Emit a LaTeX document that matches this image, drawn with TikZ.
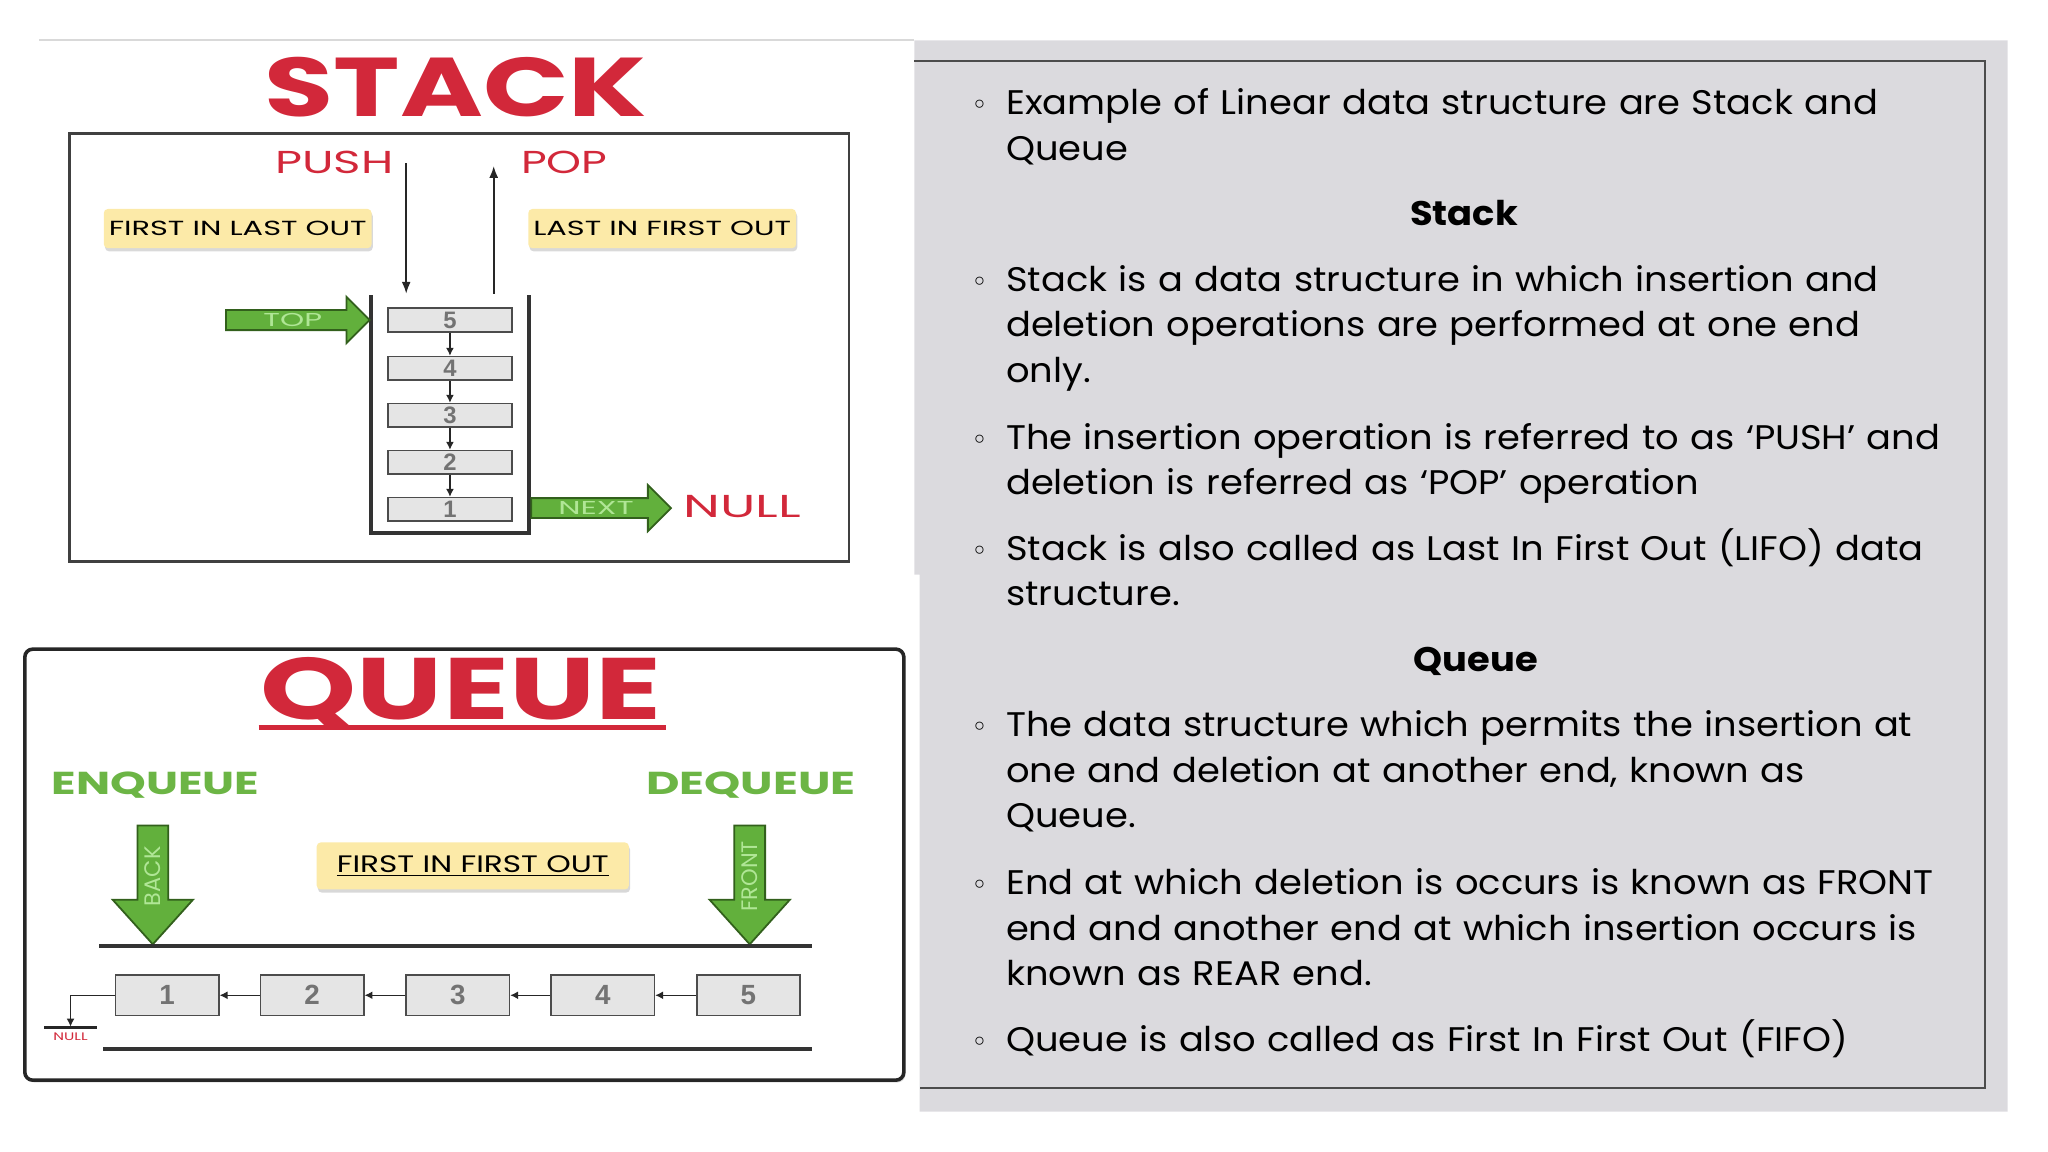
\documentclass[tikz,border=0pt]{standalone}
\usepackage{fontspec}
\usepackage{graphicx}
\setmainfont{Poppins}
\newfontfamily\bodyfont{Poppins}[FakeStretch=1.08]
\newfontfamily\numfont{Liberation Sans}
\newfontfamily\symfont{DejaVu Sans}
\usetikzlibrary{arrows.meta}
\usetikzlibrary{shapes.arrows}
\usetikzlibrary{shadows}
\usetikzlibrary{positioning}
\definecolor[named]{DSRed}{RGB}{210,40,58}
\definecolor[named]{DSGreen}{RGB}{98,176,60}
\definecolor[named]{DSDarkGreen}{RGB}{50,96,28}
\definecolor[named]{DSLightGreen}{RGB}{176,230,150}
\definecolor[named]{DSTextGreen}{RGB}{108,181,69}
\definecolor[named]{DSYellow}{RGB}{252,234,168}
\definecolor[named]{DSPanel}{RGB}{219,218,222}
\colorlet{cellbg}{lightgray!40!white}
\newlength{\px}
\setlength{\px}{0.6585pt}
\newcommand{\wide}[2]{\scalebox{#1}[1]{#2}}
\tikzset{
  redlabel/.style={text=DSRed, inner sep=0pt, font=\fontsize{16}{16}\selectfont},
  greenlabel/.style={text=DSTextGreen, inner sep=0pt, font=\bfseries\fontsize{16}{16}\selectfont},
  note/.style={fill=DSYellow, rounded corners=2pt, inner sep=0pt,
    minimum width=205\px, minimum height=30\px,
    drop shadow={opacity=0.3, shadow xshift=0.6pt, shadow yshift=-1.6pt},
    font=\fontsize{10.3}{10.3}\selectfont},
  scell/.style={draw=black!70, fill=cellbg, line width=0.8pt, inner sep=0pt,
    minimum width=95\px, minimum height=18\px, text=black!55,
    font=\numfont\bfseries\fontsize{12}{12}\selectfont},
  qcell/.style={scell, minimum width=79\px, minimum height=31\px,
    font=\numfont\bfseries\fontsize{14}{14}\selectfont},
  link/.style={-{Latex[length=4pt,width=4pt]}, line width=0.7pt, draw=black!85},
  oplink/.style={-{Latex[length=6pt,width=4.5pt]}, line width=1pt, draw=black!85},
  blockarrow/.style={single arrow, draw=DSDarkGreen, fill=DSGreen, line width=0.9pt,
    text=DSLightGreen, inner xsep=2pt, font=\fontsize{9.4}{9.4}\selectfont},
  wall/.style={line width=1.7pt, draw=black!80},
  rail/.style={line width=2pt, draw=black!80},
  item/.style={anchor=base west, text width=745\px, align=left, inner sep=0pt,
    font=\bodyfont\fontsize{17.2}{23}\selectfont},
  heading/.style={anchor=base, inner sep=0pt, font=\bodyfont\bfseries\fontsize{17.2}{23}\selectfont},
  dot/.style={anchor=base, inner sep=0pt, font=\symfont\fontsize{14}{14}\selectfont},
}
\begin{document}
\begin{tikzpicture}[x=\px, y=-\px]
  \useasboundingbox (0,0) rectangle (1568,882);
  \draw[black!15, line width=1pt] (30,31) -- (700,31);

  % stack
  \node[inner sep=0pt, text=DSRed, font=\bfseries\fontsize{42}{42}\selectfont] (stitle) at (349,67) {\wide{1.35}{STACK}};
  \draw[black!75, line width=1.4pt] (53,102) rectangle (650,430);
  \node[redlabel] (push) at (256,124) {\wide{1.47}{PUSH}};
  \node[redlabel] (pop) at (432,124) {\wide{1.4}{POP}};
  \node[note] (filo) at (182,175) {\wide{1.49}{FIRST IN LAST OUT}};
  \node[note] (lifo) at (507,175) {\wide{1.49}{LAST IN FIRST OUT}};
  \coordinate (pushA) at (311,125);
  \coordinate (pushB) at (311,225);
  \coordinate (popA) at (378,225);
  \coordinate (popB) at (378,127);
  \draw[oplink] (pushA) -- (pushB);
  \draw[oplink] (popA) -- (popB);
  \draw[wall] (284,226) -- (284,408) -- (405,408) -- (405,226);
  \foreach \n/\y in {5/245,4/282,3/318,2/354,1/390}
    \node[scell] (s\n) at (344.5,\y) {\n};
  \foreach \a/\b in {5/4,4/3,3/2,2/1}
    \draw[link] (s\a.south) -- (s\b.north);
  \node[blockarrow, inner ysep=1.3pt, single arrow head extend=6.6pt,
    minimum height=110\px, anchor=tip] (top) at (284,245) {\wide{1.65}{TOP}};
  \node[blockarrow, inner ysep=1.3pt, single arrow head extend=6.6pt,
    minimum height=107\px, anchor=tail] (next) at (406,389) {\wide{1.7}{NEXT}};
  \node[redlabel, anchor=west] (null) at (523,388) {\wide{1.65}{NULL}};

  % queue
  \draw[black!85, line width=1.8pt, rounded corners=4pt,
    drop shadow={opacity=0.25, shadow xshift=0.8pt, shadow yshift=-1.2pt}, fill=white]
    (19,497) rectangle (692,827);
  \node[inner sep=0pt, text=DSRed, font=\bfseries\fontsize{44}{44}\selectfont] (qtitle) at (353,531) {\wide{1.4}{QUEUE}};
  \draw[DSRed, line width=4\px] (198,557) -- (510,557);
  \node[greenlabel] (enq) at (119,601) {\wide{1.43}{ENQUEUE}};
  \node[greenlabel] (deq) at (575,601) {\wide{1.45}{DEQUEUE}};
  \node[note, minimum width=239\px, minimum height=36\px, font=\fontsize{12}{12}\selectfont]
    (fifo) at (362,663) {\wide{1.31}{\underline{FIRST IN FIRST OUT}}};
  \node[blockarrow, rotate=90, shape border rotate=180, inner ysep=3.3pt,
    single arrow head extend=12.5pt, single arrow tip angle=84,
    minimum height=91\px, anchor=tip, font=\fontsize{11.3}{11.3}\selectfont]
    (back) at (117,724) {BACK};
  \node[blockarrow, rotate=90, shape border rotate=180, inner ysep=3.3pt,
    single arrow head extend=12.5pt, single arrow tip angle=84,
    minimum height=91\px, anchor=tip, font=\fontsize{11.3}{11.3}\selectfont]
    (front) at (574,724) {FRONT};
  \draw[rail] (76,724) -- (622,724);
  \draw[rail] (79,803) -- (622,803);
  \foreach \n/\x in {1/128,2/239,3/350.5,4/461.5,5/573}
    \node[qcell] (q\n) at (\x,762) {\n};
  \foreach \a/\b in {2/1,3/2,4/3,5/4}
    \draw[link] (q\a.west) -- (q\b.east);
  \coordinate (qnull) at (54,786);
  \draw[link] (q1.west) -| (qnull);
  \draw[black!85, line width=1.5pt] (34,787) -- (74,787);
  \node[inner sep=0pt, text=DSRed, font=\fontsize{5.5}{5.5}\selectfont] (qnulltext) at (54,794) {\wide{1.4}{NULL}};

  % text panel
  \fill[DSPanel] (700,31) -- (1537,31) -- (1537,851) -- (704,851) -- (704,440) -- (700,440) -- cycle;
  \draw[black!70, line width=1pt] (700,47) -- (1520,47) -- (1520,833) -- (704,833);
  \node[item] (i1) at (770,88) {Example of Linear data structure are Stack and\\Queue};
  \node[heading] (hs) at (1121,173) {Stack};
  \node[item] (i2) at (770,223) {Stack is a data structure in which insertion and\\deletion operations are performed at one end\\only.};
  \node[item] (i3) at (770,344) {The insertion operation is referred to as ‘PUSH’ and\\deletion is referred as ‘POP’ operation};
  \node[item] (i4) at (770,429) {Stack is also called as Last In First Out (LIFO) data\\structure.};
  \node[heading] (hq) at (1130,514) {Queue};
  \node[item] (i5) at (770,564) {The data structure which permits the insertion at\\one and deletion at another end, known as\\Queue.};
  \node[item] (i6) at (770,685) {End at which deletion is occurs is known as FRONT\\end and another end at which insertion occurs is\\known as REAR end.};
  \node[item] (i7) at (770,805) {Queue is also called as First In First Out (FIFO)};
  \foreach \b in {i1,i2,i3,i4,i5,i6,i7}
    \node[dot] (d\b) at ([xshift=-20\px]\b.base west) {◦};
\end{tikzpicture}
\end{document}
